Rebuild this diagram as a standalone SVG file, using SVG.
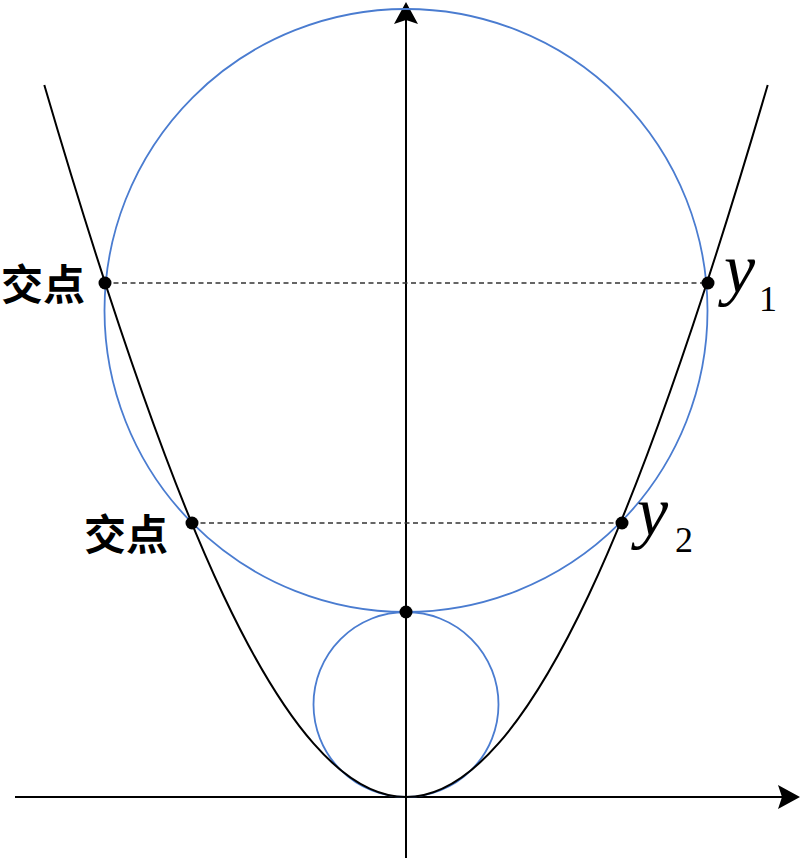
<svg xmlns="http://www.w3.org/2000/svg" width="800" height="858" viewBox="0 0 800 858">
<style>
.axis{stroke:#000;stroke-width:2;fill:none}
.curve{stroke:#000;stroke-width:2;fill:none}
.circ{stroke:#4a7cd0;stroke-width:1.8;fill:none}
.dash{stroke:#333;stroke-width:1.3;stroke-dasharray:5 3.5;fill:none}
.dot{fill:#000}
.cjk{font-family:"Noto Sans CJK SC","Noto Sans CJK JP",sans-serif;font-weight:bold;font-size:42px;fill:#000}
.var{font-family:"Liberation Serif",serif;font-style:italic;font-size:70px;fill:#000}
.sub{font-family:"Liberation Serif",serif;font-size:36px;fill:#000}
</style>
<rect width="800" height="858" fill="#fff"/>
<g id="axes">
<line class="axis" x1="15" y1="797" x2="784" y2="797"/>
<path d="M800,797 L778,785 L782,797 L778,809 Z" fill="#000"/>
<line class="axis" x1="406" y1="858" x2="406" y2="18"/>
<path d="M406,2 L394,24 L406,20 L418,24 Z" fill="#000"/>
</g>
<g id="circles">
<circle id="bigCircle" class="circ" cx="406" cy="310.5" r="301.5"/>
<circle id="smallCircle" class="circ" cx="406" cy="704.5" r="92.5"/>
</g>
<g id="parabola">
<path class="curve" d="M44.3,85 C164.9,497 281,797 406,797 C531,797 647.1,497 767.7,85"/>
</g>
<g id="connectors">
<line class="dash" x1="105" y1="283" x2="708" y2="283"/>
<line class="dash" x1="192" y1="523" x2="622" y2="523"/>
</g>
<g id="points">
<circle class="dot" cx="105" cy="283" r="6.5"/>
<circle class="dot" cx="708" cy="283" r="6.5"/>
<circle class="dot" cx="192" cy="523" r="6.5"/>
<circle class="dot" cx="622" cy="523" r="6.5"/>
<circle class="dot" cx="406" cy="612" r="6.5"/>
</g>
<g id="labels">
<text class="cjk" x="1" y="300">交点</text>
<text class="cjk" x="84" y="550">交点</text>
<text class="var" x="724" y="292">y</text>
<text class="sub" x="759" y="311">1</text>
<text class="var" x="637" y="535">y</text>
<text class="sub" x="675" y="552">2</text>
</g>
</svg>
